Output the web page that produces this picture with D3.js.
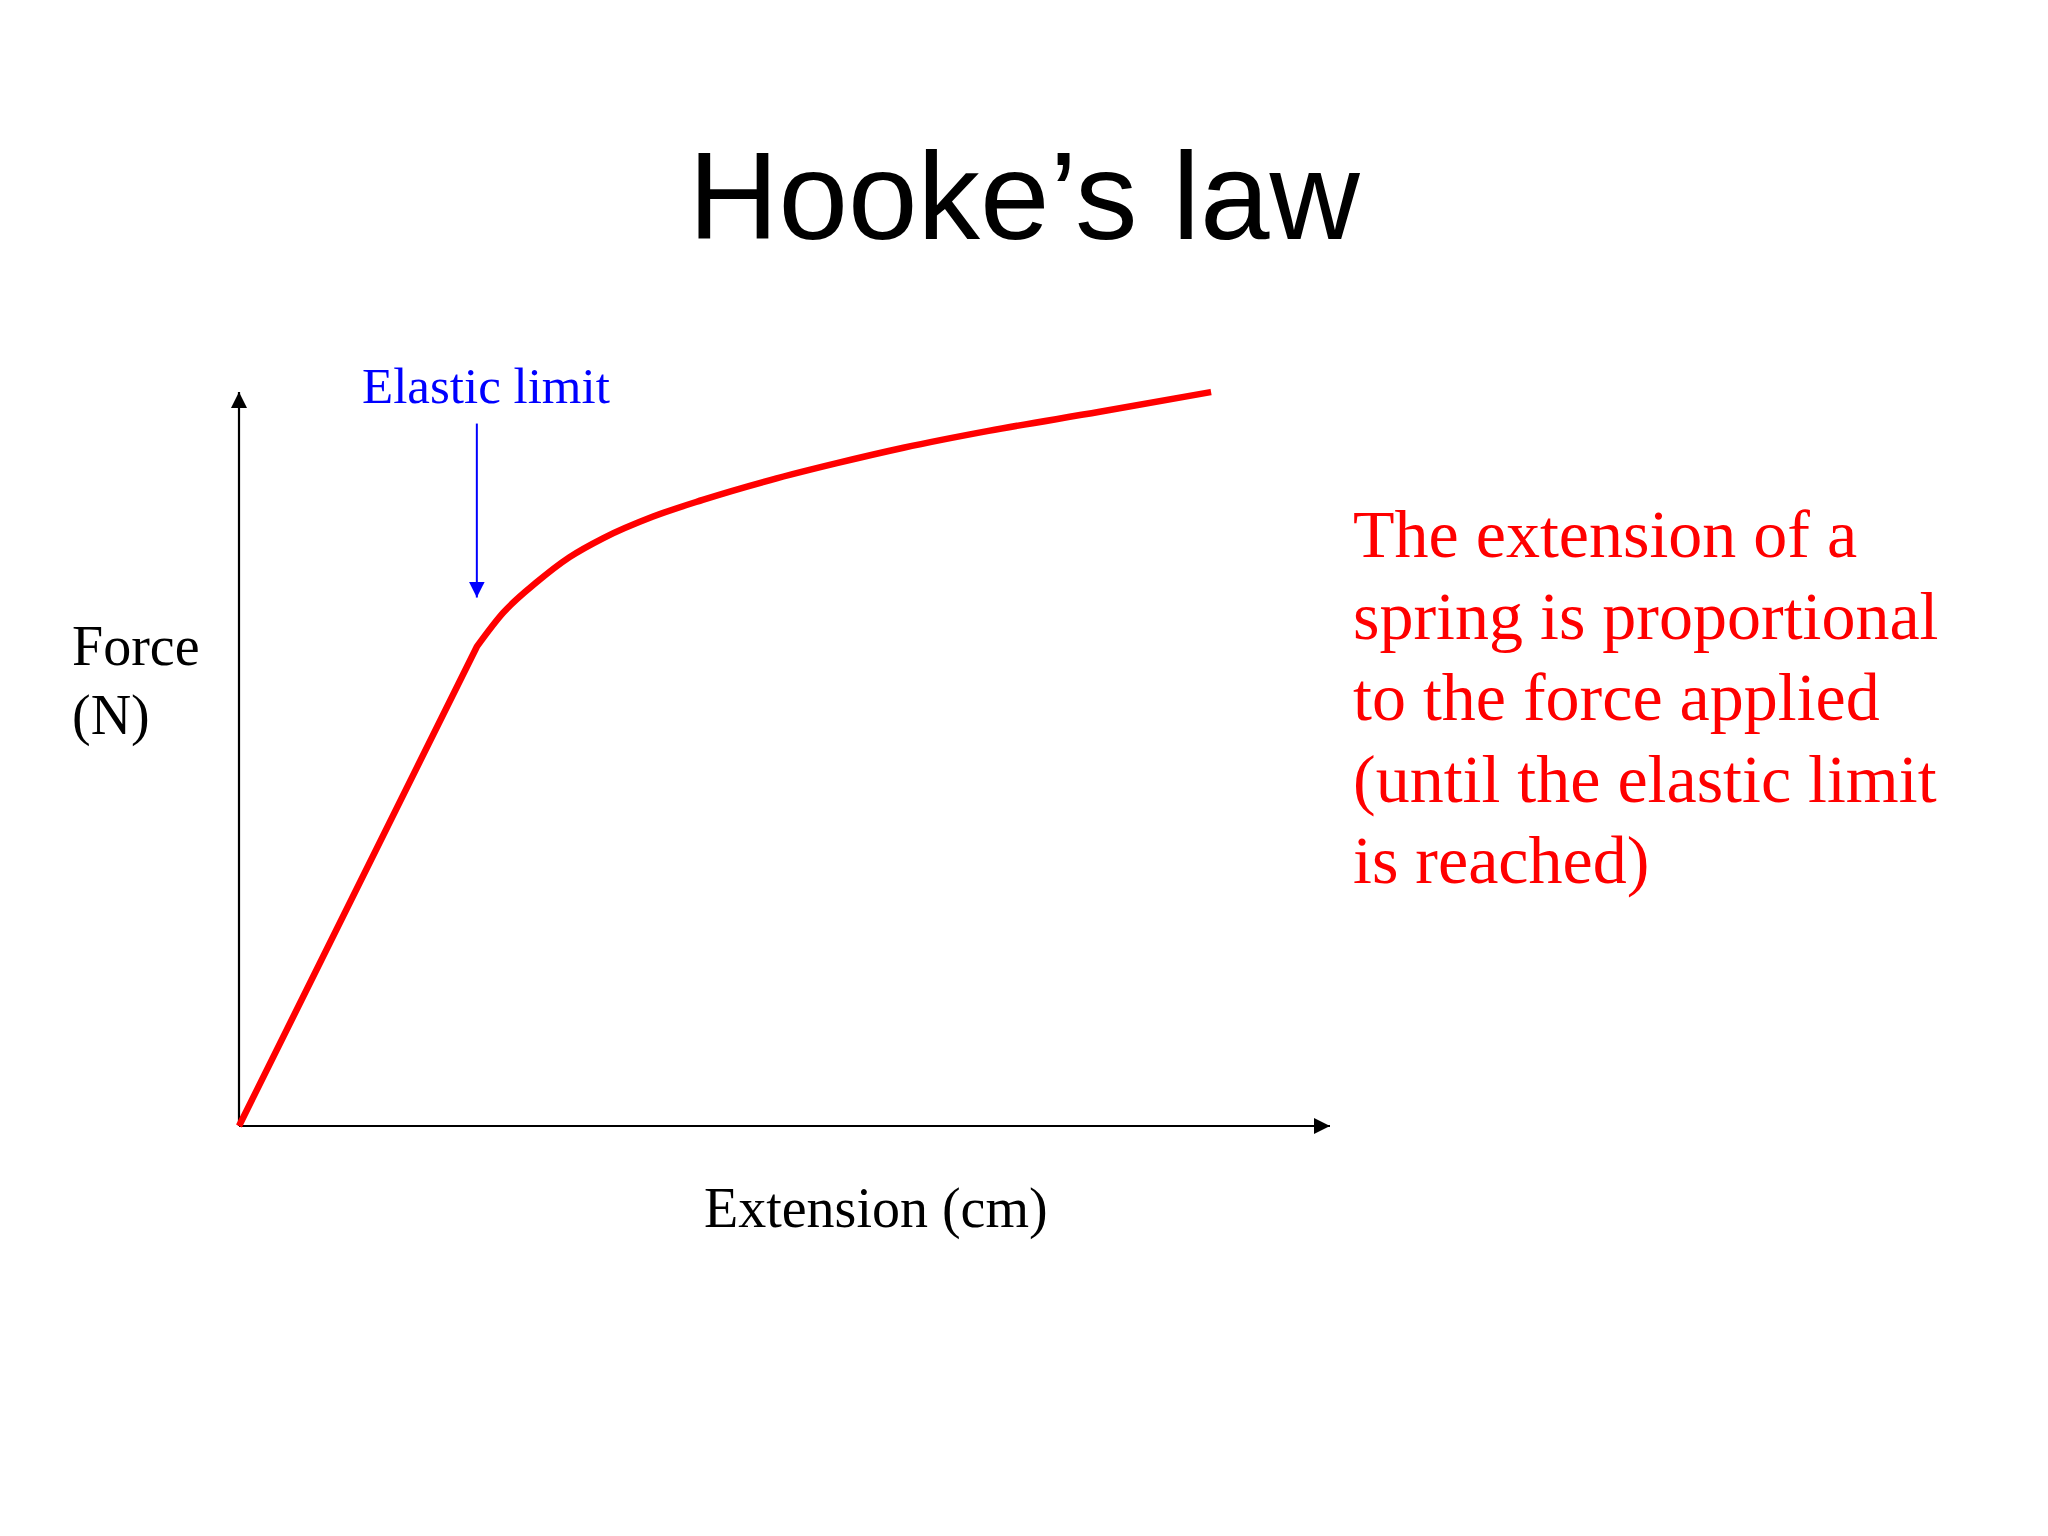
<!DOCTYPE html>
<html>
<head>
<meta charset="utf-8">
<script src="https://cdn.jsdelivr.net/npm/d3@7/dist/d3.min.js"></script>
<style>
  html, body { margin: 0; padding: 0; background: #ffffff; }
  svg { display: block; }
</style>
</head>
<body>
<svg id="chart" width="2048" height="1536"></svg>
<script>
// ---- Data ----
const titleText = "Hooke’s law";
const xLabel = "Extension (cm)";
const yLabelLines = ["Force", "(N)"];
const annotationText = "Elastic limit";
const statementLines = [
  "The extension of a",
  "spring is proportional",
  "to the force applied",
  "(until the elastic limit",
  "is reached)"
];

// Linear (elastic) region: origin to the elastic limit
const linearExt   = [0, 2.18];
const linearForce = [0, 6.53];
// Plastic region: from the elastic limit onward
const plasticExt   = [2.18, 2.42, 2.73, 3.03, 3.34, 3.79, 4.25, 4.87, 5.48, 6.09, 6.87, 7.89, 8.91];
const plasticForce = [6.53, 6.99, 7.41, 7.75, 8.01, 8.30, 8.53, 8.80, 9.03, 9.24, 9.47, 9.73, 10.0];

// Elastic-limit arrow (data coords): x position, from force to force
const arrowExt = [2.18];
const arrowForce = [9.57, 7.20];

// ---- Chart ----
const svg = d3.select("#chart");
svg.append("rect").attr("width", 2048).attr("height", 1536).attr("fill", "#ffffff");

const x = d3.scaleLinear().domain([0, 10]).range([239, 1330]);
const y = d3.scaleLinear().domain([0, 10]).range([1126, 392]);

const defs = svg.append("defs");
defs.append("marker")
  .attr("id", "blackHead").attr("viewBox", "0 0 10 10")
  .attr("refX", 10).attr("refY", 5)
  .attr("markerWidth", 16).attr("markerHeight", 17)
  .attr("markerUnits", "userSpaceOnUse")
  .attr("orient", "auto")
  .append("path").attr("d", "M0,0 L10,5 L0,10 Z").attr("fill", "#000");
defs.append("marker")
  .attr("id", "blueHead").attr("viewBox", "0 0 10 10")
  .attr("refX", 10).attr("refY", 5)
  .attr("markerWidth", 16).attr("markerHeight", 17)
  .attr("markerUnits", "userSpaceOnUse")
  .attr("orient", "auto")
  .append("path").attr("d", "M0,0 L10,5 L0,10 Z").attr("fill", "#0000ff");

// Axes (arrowed lines drawn through the scales)
const x1 = x.range()[1];
const y1 = y.range()[1];
svg.append("line")
  .attr("x1", x(0)).attr("y1", y(0)).attr("x2", x(0)).attr("y2", y1)
  .attr("stroke", "#000").attr("stroke-width", 2.2)
  .attr("marker-end", "url(#blackHead)");
svg.append("line")
  .attr("x1", x(0)).attr("y1", y(0)).attr("x2", x1).attr("y2", y(0))
  .attr("stroke", "#000").attr("stroke-width", 2.2)
  .attr("marker-end", "url(#blackHead)");

// Curve: straight elastic segment, then smooth plastic curve
const linearPts = linearExt.map((e, i) => [e, linearForce[i]]);
const plasticPts = plasticExt.map((e, i) => [e, plasticForce[i]]);
const lineLin = d3.line().x(d => x(d[0])).y(d => y(d[1])).curve(d3.curveLinear);
const lineCurve = d3.line().x(d => x(d[0])).y(d => y(d[1])).curve(d3.curveMonotoneX);
const curveD = lineCurve(plasticPts);
const pathD = lineLin(linearPts) + "L" + curveD.slice(1);
svg.append("path")
  .attr("d", pathD)
  .attr("fill", "none")
  .attr("stroke", "#ff0000")
  .attr("stroke-width", 6.5)
  .attr("stroke-linejoin", "round")
  .attr("stroke-linecap", "butt");

// Elastic limit arrow
svg.append("line")
  .attr("x1", x(arrowExt[0])).attr("y1", y(arrowForce[0]))
  .attr("x2", x(arrowExt[0])).attr("y2", y(arrowForce[1]))
  .attr("stroke", "#0000ff").attr("stroke-width", 2)
  .attr("marker-end", "url(#blueHead)");

// Texts
svg.append("text")
  .attr("x", 1024).attr("y", 239)
  .attr("text-anchor", "middle")
  .attr("font-family", "'Liberation Sans', Arial, sans-serif")
  .attr("font-size", 125)
  .attr("fill", "#000")
  .text(titleText);

svg.append("text")
  .attr("x", 362).attr("y", 403)
  .attr("font-family", "'Liberation Serif', 'Times New Roman', serif")
  .attr("font-size", 51)
  .attr("fill", "#0000ff")
  .text(annotationText);

svg.append("text")
  .attr("x", 704).attr("y", 1227)
  .attr("font-family", "'Liberation Serif', 'Times New Roman', serif")
  .attr("font-size", 56)
  .attr("fill", "#000")
  .text(xLabel);

svg.append("g").selectAll("text").data(yLabelLines).join("text")
  .attr("x", 72).attr("y", (d, i) => 665 + i * 69)
  .attr("font-family", "'Liberation Serif', 'Times New Roman', serif")
  .attr("font-size", 56)
  .attr("fill", "#000")
  .text(d => d);

svg.append("g").selectAll("text").data(statementLines).join("text")
  .attr("x", 1353).attr("y", (d, i) => 557 + i * 81.6)
  .attr("font-family", "'Liberation Serif', 'Times New Roman', serif")
  .attr("font-size", 68)
  .attr("fill", "#ff0000")
  .text(d => d);
</script>
</body>
</html>
